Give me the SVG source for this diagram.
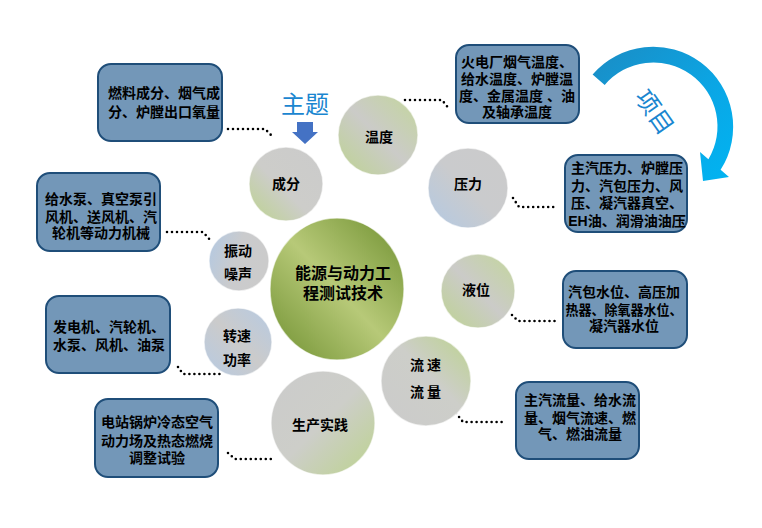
<svg xmlns="http://www.w3.org/2000/svg" width="762" height="528" viewBox="0 0 762 528">
<defs>
<style>
.box{fill:#7397b8;stroke:#1f4e79;stroke-width:2}
.bt{font-family:"Liberation Sans","Noto Sans CJK SC",sans-serif;font-size:14px;font-weight:bold;fill:#000;text-anchor:middle}
.ct{font-family:"Liberation Sans","Noto Sans CJK SC",sans-serif;font-size:14px;font-weight:bold;fill:#000;text-anchor:middle}
.dot{fill:none;stroke:#000;stroke-width:2.6;stroke-linecap:round;stroke-dasharray:0 5}
.circ{stroke:#fff;stroke-width:1.5;stroke-opacity:0.6}
</style>
<linearGradient id="gGreenBL" x1="0" y1="1" x2="1" y2="0"><stop offset="0" stop-color="#bcd38e"/><stop offset="0.45" stop-color="#cdcdca"/><stop offset="1" stop-color="#cbcbcb"/></linearGradient>
<linearGradient id="gGreen3" x1="0" y1="1" x2="1" y2="0"><stop offset="0" stop-color="#bdd391"/><stop offset="0.5" stop-color="#cbcbc8"/><stop offset="1" stop-color="#c3d69b"/></linearGradient>
<linearGradient id="gGreenTR" x1="0" y1="1" x2="1" y2="0"><stop offset="0" stop-color="#cbcbcb"/><stop offset="0.55" stop-color="#cdcec9"/><stop offset="1" stop-color="#bcd38e"/></linearGradient>
<linearGradient id="gGreenBR" x1="0" y1="0" x2="1" y2="1"><stop offset="0" stop-color="#cbcbcb"/><stop offset="0.5" stop-color="#cdcec9"/><stop offset="1" stop-color="#bcd38e"/></linearGradient>
<linearGradient id="gBlueBL" x1="0" y1="1" x2="1" y2="0"><stop offset="0" stop-color="#b3c9e3"/><stop offset="0.5" stop-color="#cacbcd"/><stop offset="1" stop-color="#cbcbcb"/></linearGradient>
<linearGradient id="gBlueL" x1="0" y1="0" x2="1" y2="0.3"><stop offset="0" stop-color="#b3c9e3"/><stop offset="0.55" stop-color="#cacbcd"/><stop offset="1" stop-color="#cbcbcb"/></linearGradient>
<linearGradient id="gBlue3" x1="0" y1="1" x2="1" y2="0"><stop offset="0" stop-color="#b6cae3"/><stop offset="0.5" stop-color="#cbcbcb"/><stop offset="1" stop-color="#b6cae3"/></linearGradient>
<linearGradient id="gCenter" x1="1" y1="0" x2="0" y2="1"><stop offset="0" stop-color="#6f9030"/><stop offset="0.5" stop-color="#b7c978"/><stop offset="1" stop-color="#6f9030"/></linearGradient>
<linearGradient id="gArrow" x1="0" y1="0" x2="1" y2="1"><stop offset="0" stop-color="#1b8cc4"/><stop offset="0.6" stop-color="#0aa7e6"/><stop offset="1" stop-color="#00b4f2"/></linearGradient>
</defs>
<rect width="762" height="528" fill="#fff"/>

<g id="connectors">
<polyline class="dot" points="228,129 265,129 273,137"/>
<polyline class="dot" points="405,100 442,100 450,110"/>
<polyline class="dot" points="513,198 519,207 558,207"/>
<polyline class="dot" points="167,232 203,232 212,242"/>
<polyline class="dot" points="178,367 183,374 223,374"/>
<polyline class="dot" points="512,315 518,321 557,321"/>
<polyline class="dot" points="456,413 463,422 502,422"/>
<polyline class="dot" points="228,453 235,459 275,459"/>
</g>

<g id="center">
<ellipse cx="337" cy="289" rx="67" ry="71" fill="url(#gCenter)" class="circ"/>
<text class="ct" x="343" y="279" style="font-size:16px">能源与动力工</text>
<text class="ct" x="343" y="299" style="font-size:16px">程测试技术</text>
</g>

<g id="n-chengfen">
<circle cx="286" cy="184" r="37" fill="url(#gGreenBL)" class="circ"/>
<text class="ct" x="286" y="189">成分</text>
</g>
<g id="n-wendu">
<circle cx="378" cy="135" r="40" fill="url(#gGreen3)" class="circ"/>
<text class="ct" x="379" y="142">温度</text>
</g>
<g id="n-yali">
<circle cx="468" cy="188" r="40" fill="url(#gBlueBL)" class="circ"/>
<text class="ct" x="468" y="189">压力</text>
</g>
<g id="n-zhendong">
<circle cx="239" cy="261" r="30" fill="url(#gBlueL)" class="circ"/>
<text class="ct" x="238" y="256">振动</text>
<text class="ct" x="238" y="279">噪声</text>
</g>
<g id="n-zhuansu">
<circle cx="238" cy="342" r="34" fill="url(#gBlue3)" class="circ"/>
<text class="ct" x="237" y="341">转速</text>
<text class="ct" x="237" y="365">功率</text>
</g>
<g id="n-yewei">
<circle cx="478" cy="291" r="37" fill="url(#gGreen3)" class="circ"/>
<text class="ct" x="476" y="295">液位</text>
</g>
<g id="n-liusu">
<circle cx="426" cy="381" r="45" fill="url(#gGreenTR)" class="circ"/>
<text class="ct" x="427" y="370" style="letter-spacing:3px">流速</text>
<text class="ct" x="427" y="397" style="letter-spacing:3px">流量</text>
</g>
<g id="n-shengchan">
<circle cx="323" cy="423" r="52" fill="url(#gGreenBR)" class="circ"/>
<text class="ct" x="320" y="430">生产实践</text>
</g>

<g id="b-ranliao">
<rect class="box" x="98" y="64" width="124" height="77" rx="13"/>
<text class="bt" x="164" y="98">燃料成分、烟气成</text>
<text class="bt" x="164" y="117">分、炉膛出口氧量</text>
</g>
<g id="b-huodian">
<rect class="box" x="456" y="45" width="123" height="78" rx="13"/>
<text class="bt" x="517" y="67">火电厂烟气温度、</text>
<text class="bt" x="517" y="84">给水温度、炉膛温</text>
<text class="bt" x="517" y="101">度、金属温度 、油</text>
<text class="bt" x="517" y="117">及轴承温度</text>
</g>
<g id="b-zhuqi">
<rect class="box" x="565" y="155" width="122" height="77" rx="13"/>
<text class="bt" x="627" y="173">主汽压力、炉膛压</text>
<text class="bt" x="627" y="191">力、汽包压力、风</text>
<text class="bt" x="627" y="208">压、凝汽器真空、</text>
<text class="bt" x="627" y="226">EH油、润滑油油压</text>
</g>
<g id="b-geishui">
<rect class="box" x="37" y="173" width="123" height="78" rx="13"/>
<text class="bt" x="101" y="204">给水泵、真空泵引</text>
<text class="bt" x="101" y="222">风机、送风机、汽</text>
<text class="bt" x="101" y="238">轮机等动力机械</text>
</g>
<g id="b-fadian">
<rect class="box" x="46" y="296" width="124" height="77" rx="13"/>
<text class="bt" x="109" y="332">发电机、汽轮机、</text>
<text class="bt" x="109" y="350">水泵、风机、油泵</text>
</g>
<g id="b-qibao">
<rect class="box" x="563" y="271" width="124" height="77" rx="13"/>
<text class="bt" x="624" y="297">汽包水位、高压加</text>
<text class="bt" x="624" y="315" textLength="117" lengthAdjust="spacingAndGlyphs">热器、除氧器水位、</text>
<text class="bt" x="624" y="331">凝汽器水位</text>
</g>
<g id="b-liuliang">
<rect class="box" x="516" y="382" width="123" height="77" rx="13"/>
<text class="bt" x="580" y="405">主汽流量、给水流</text>
<text class="bt" x="580" y="423">量、烟气流速、燃</text>
<text class="bt" x="580" y="439">气、燃油流量</text>
</g>
<g id="b-guolu">
<rect class="box" x="95" y="399" width="123" height="78" rx="13"/>
<text class="bt" x="157" y="427">电站锅炉冷态空气</text>
<text class="bt" x="157" y="446">动力场及热态燃烧</text>
<text class="bt" x="157" y="463">调整试验</text>
</g>

<g id="theme">
<text x="305" y="113" text-anchor="middle" font-family="'Noto Sans CJK SC',sans-serif" font-size="24" fill="#1a86d0">主题</text>
<polygon points="297,122 313,122 313,132 318,132 305,144 292,132 297,132" fill="#4472c4"/>
</g>

<g id="project">
<path d="M592.6,74.5 A80,80 0 0 1 720.6,169.8 L729,177 L703,181 L700,152 L708.4,159.3 A64,64 0 0 0 604.7,85 Z" fill="url(#gArrow)"/>
<text transform="translate(656,111) rotate(55)" text-anchor="middle" dominant-baseline="central" font-family="'Noto Sans CJK SC',sans-serif" font-size="24" fill="#1a86d0">项目</text>
</g>
</svg>
